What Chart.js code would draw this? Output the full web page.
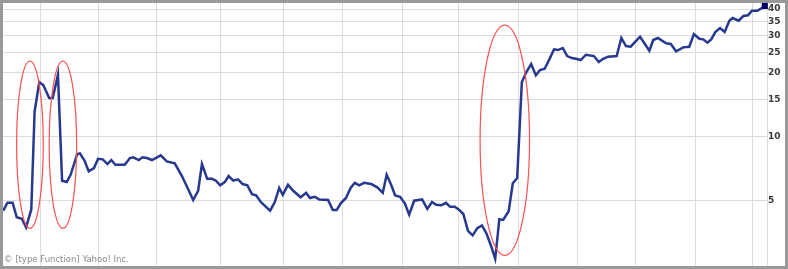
<!DOCTYPE html>
<html>
<head>
<meta charset="utf-8">
<script src="https://cdn.jsdelivr.net/npm/chart.js@4.4.1/dist/chart.umd.min.js"></script>
<style>
  html, body { margin: 0; padding: 0; background: #fff; }
  #frame { position: relative; width: 788px; height: 269px; box-sizing: border-box; border: 3px solid #999; background: #fff; }
  #priceChart { display: block; }
  #credit { position: absolute; left: 1px; top: 251px; font: 8.5px "DejaVu Sans", sans-serif; line-height: 10px; color: #888; white-space: nowrap; pointer-events: none; }
</style>
</head>
<body>
<div id="frame">
  <canvas id="priceChart" width="782" height="263"></canvas>
  <div id="credit">© [type Function] Yahoo! Inc.</div>
</div>
<script>
// trading session number and closing price
const days = [
  0.1, 1.6, 3.5, 5.0, 6.9, 8.4, 10.3, 11.5, 13.2, 14.7, 16.8, 18.1, 20.0, 21.5, 23.2, 24.6,
  27.0, 28.0, 29.7, 31.2, 33.1, 34.6, 36.3, 38.0, 39.4, 40.9, 44.3, 46.2, 47.4, 49.4, 50.8, 52.3,
  54.2, 57.4, 59.6, 62.5, 65.1, 67.3, 69.2, 71.0, 72.4, 74.3, 76.0, 77.5, 79.0, 80.7, 82.1, 83.8,
  85.5, 87.2, 88.9, 90.6, 92.1, 93.8, 95.4, 97.2, 98.9, 100.5, 101.8, 103.7, 105.6, 108.3, 110.3, 111.7,
  113.4, 115.1, 118.3, 120.0, 121.4, 122.9, 124.8, 126.5, 128.0, 129.6, 131.4, 134.0, 136.2, 138.2, 139.6, 141.3,
  142.7, 144.5, 146.2, 147.8, 149.6, 152.5, 154.4, 156.1, 157.6, 159.5, 161.2, 162.7, 164.4, 165.9, 167.5, 169.2,
  170.9, 172.6, 174.3, 176.0, 177.7, 179.1, 180.6, 182.0, 184.0, 185.5, 187.1, 188.8, 190.6, 192.2, 193.9, 195.4,
  197.1, 198.8, 200.5, 201.9, 203.7, 205.3, 207.0, 208.5, 210.2, 212.1, 215.0, 216.8, 218.4, 220.2, 223.3, 225.0,
  226.7, 228.4, 231.8, 235.2, 236.6, 238.3, 241.3, 243.0, 244.9, 247.5, 249.7, 251.4, 253.4, 254.8, 256.3, 257.7,
  259.2, 260.9, 262.6, 264.3, 265.5, 267.7, 269.4, 271.1, 272.5, 274.5, 276.2, 277.2
];
const closes = [
  4.47, 4.87, 4.87, 4.16, 4.09, 3.73, 4.53, 13.10, 18.09, 17.45, 15.20, 15.20, 19.59, 6.19, 6.10, 6.60,
  8.27, 8.33, 7.69, 6.85, 7.10, 7.86, 7.81, 7.42, 7.75, 7.36, 7.36, 7.92, 7.98, 7.75, 7.98, 7.92,
  7.75, 8.15, 7.64, 7.48, 6.51, 5.67, 5.02, 5.55, 7.42, 6.32, 6.32, 6.19, 5.89, 6.10, 6.51, 6.19,
  6.28, 5.97, 5.89, 5.35, 5.28, 4.91, 4.70, 4.47, 4.91, 5.72, 5.31, 5.92, 5.55, 5.17, 5.43, 5.13,
  5.20, 5.05, 5.02, 4.50, 4.50, 4.84, 5.13, 5.72, 6.05, 5.89, 6.05, 5.97, 5.76, 5.43, 6.60, 5.89,
  5.28, 5.20, 4.84, 4.28, 4.98, 5.05, 4.56, 4.91, 4.77, 4.74, 4.87, 4.66, 4.66, 4.52, 4.31, 3.59,
  3.42, 3.70, 3.81, 3.47, 3.02, 2.65, 4.07, 4.04, 4.44, 6.02, 6.37, 18.09, 20.32, 21.99, 19.45, 20.61,
  20.90, 23.15, 25.81, 25.61, 26.18, 23.99, 23.48, 23.30, 22.98, 24.34, 23.99, 22.48, 23.30, 23.82, 23.99, 29.18,
  26.75, 26.55, 29.60, 25.42, 28.56, 29.18, 27.55, 27.34, 25.26, 26.37, 26.55, 30.48, 28.96, 28.77, 27.73, 28.77,
  31.15, 32.53, 31.15, 35.22, 36.27, 35.22, 37.07, 37.35, 39.27, 39.27, 40.43, 41.33
];

// session numbers where each month begins
const monthStarts = [13.5, 34.6, 56.0, 79.0, 101.9, 123.4, 145.2, 165.9, 187.4, 209.2, 230.3, 251.9, 272.9];
const priceTicks = [5, 10, 15, 20, 25, 30, 35, 40];

// red rings marking the jumps: centre session, half width in sessions, price at top and bottom
const ringDays = [9.8, 21.8, 182.6];
const ringHalfWidths = [4.85, 5.0, 9.0];
const ringTops = [22.7, 22.7, 33.6];
const ringBottoms = [3.69, 3.69, 2.75];

const ringPlugin = {
  id: "rings",
  afterDatasetsDraw(chart) {
    const { ctx, scales: { x, y } } = chart;
    ctx.save();
    ctx.strokeStyle = "#ff5050";
    ctx.lineWidth = 1.2;
    ringDays.forEach((day, i) => {
      const cx = x.getPixelForValue(day);
      const rx = x.getPixelForValue(day + ringHalfWidths[i]) - cx;
      const top = y.getPixelForValue(ringTops[i]);
      const bottom = y.getPixelForValue(ringBottoms[i]);
      ctx.beginPath();
      ctx.ellipse(cx, (top + bottom) / 2, rx, (bottom - top) / 2, 0, 0, Math.PI * 2);
      ctx.stroke();
    });
    ctx.restore();
  }
};

// the chart fills the frame, so the axes must not reserve room for their labels
function noPadding(scale) {
  scale.paddingTop = 0;
  scale.paddingBottom = 0;
  scale.paddingLeft = 0;
  scale.paddingRight = 0;
}

const lastIndex = closes.length - 1;

new Chart(document.getElementById("priceChart"), {
  type: "line",
  data: {
    datasets: [
      {
        data: days.map((day, i) => ({ x: day, y: closes[i] })),
        borderColor: "#27398f",
        borderWidth: 2.5,
        tension: 0,
        pointStyle: "rect",
        pointRadius: ctx => (ctx.dataIndex === lastIndex ? 4.3 : 0),
        pointBackgroundColor: "#000066",
        pointBorderWidth: 0,
        clip: false
      }
    ]
  },
  options: {
    responsive: false,
    animation: false,
    events: [],
    layout: { padding: 0, autoPadding: false },
    plugins: {
      legend: { display: false },
      tooltip: { enabled: false }
    },
    scales: {
      x: {
        type: "linear",
        min: 0,
        max: 278,
        afterBuildTicks: scale => {
          scale.ticks = monthStarts.map(value => ({ value }));
        },
        afterFit: scale => {
          scale.height = 0;
          noPadding(scale);
        },
        ticks: { display: false },
        grid: { color: "#dcdcdc", lineWidth: 1, drawTicks: false },
        border: { display: false }
      },
      y: {
        type: "logarithmic",
        position: "right",
        min: 2.45,
        max: 42.7,
        afterBuildTicks: scale => {
          scale.ticks = priceTicks.map(value => ({ value }));
        },
        afterFit: scale => {
          scale.width = 18;
          noPadding(scale);
        },
        ticks: {
          padding: 1,
          color: "#3a3a3a",
          font: { family: "DejaVu Sans", size: 9, weight: "bold" },
          callback: value => String(value)
        },
        grid: { color: "#dcdcdc", lineWidth: 1, drawTicks: false },
        border: { display: true, color: "#dcdcdc" }
      }
    }
  },
  plugins: [ringPlugin]
});
</script>
</body>
</html>
